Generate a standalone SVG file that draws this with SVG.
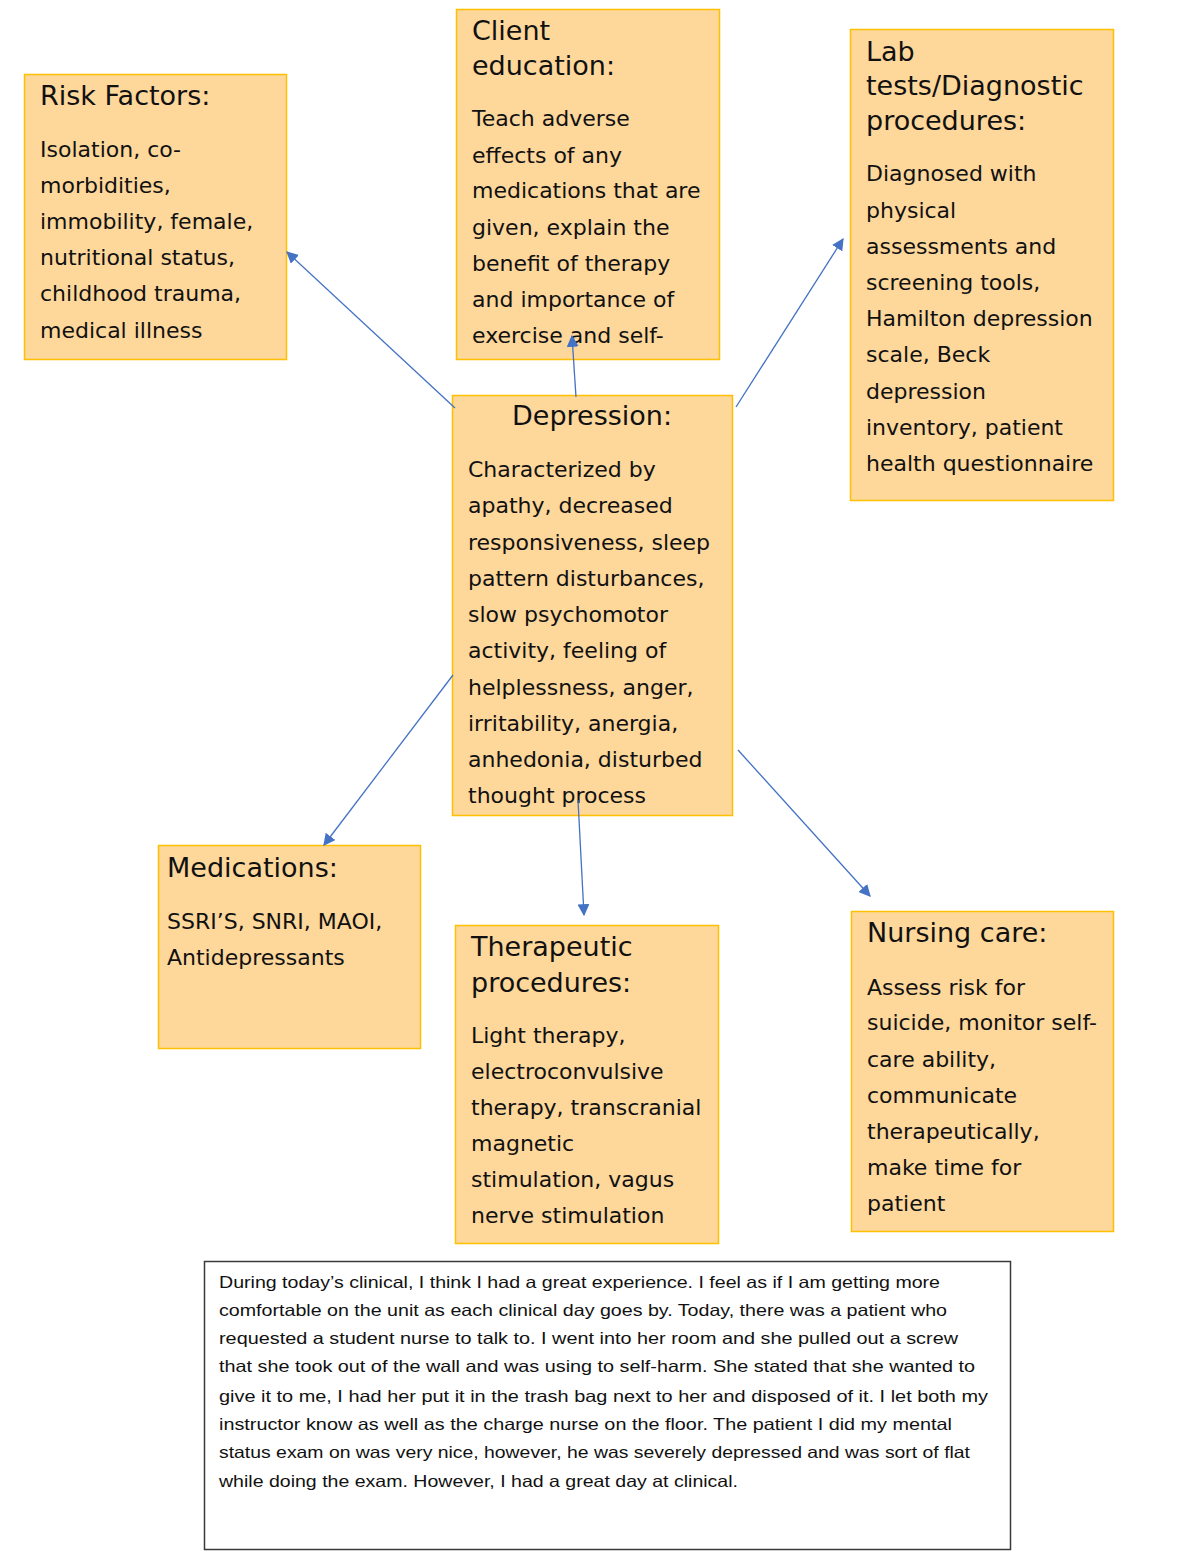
<svg xmlns="http://www.w3.org/2000/svg" width="1200" height="1553" viewBox="0 0 1200 1553">
<style>
.box{fill:#FED79B;stroke:#FFC000;stroke-width:1.5}
.t{font-family:"DejaVu Sans","Noto Sans",sans-serif;font-size:27px;fill:#111}
.b{font-family:"DejaVu Sans","Noto Sans",sans-serif;font-size:22px;fill:#111}
.n{font-family:"Liberation Sans",Arial,sans-serif;font-size:16.5px;fill:#111}
.c{stroke:#4472C4;stroke-width:1.3;fill:none;marker-end:url(#ah)}
</style>
<defs>
<marker id="ah" viewBox="0 0 10 10" refX="9" refY="5" markerWidth="12" markerHeight="12" markerUnits="userSpaceOnUse" orient="auto">
<path d="M0,0 L10,5 L0,10 z" fill="#4472C4"/>
</marker>
</defs>
<rect width="1200" height="1553" fill="#fff"/>

<g id="risk-factors">
<rect class="box" x="24.5" y="74.5" width="262" height="285"/>
<text class="t" x="40" y="105">Risk Factors:</text>
<text class="b" x="40" y="157">Isolation, co-</text>
<text class="b" x="40" y="193">morbidities,</text>
<text class="b" x="40" y="229">immobility, female,</text>
<text class="b" x="40" y="265">nutritional status,</text>
<text class="b" x="40" y="301">childhood trauma,</text>
<text class="b" x="40" y="338">medical illness</text>
</g>

<g id="client-education">
<rect class="box" x="456.5" y="9.5" width="263" height="350"/>
<text class="t" x="472" y="40">Client</text>
<text class="t" x="472" y="75">education:</text>
<text class="b" x="472" y="126">Teach adverse</text>
<text class="b" x="472" y="163">effects of any</text>
<text class="b" x="472" y="198">medications that are</text>
<text class="b" x="472" y="235">given, explain the</text>
<text class="b" x="472" y="271">benefit of therapy</text>
<text class="b" x="472" y="307">and importance of</text>
<text class="b" x="472" y="343">exercise and self-</text>
</g>

<g id="lab-tests">
<rect class="box" x="850.5" y="29.5" width="263" height="471"/>
<text class="t" x="866" y="61">Lab</text>
<text class="t" x="866" y="95">tests/Diagnostic</text>
<text class="t" x="866" y="130">procedures:</text>
<text class="b" x="866" y="181">Diagnosed with</text>
<text class="b" x="866" y="218">physical</text>
<text class="b" x="866" y="254">assessments and</text>
<text class="b" x="866" y="290">screening tools,</text>
<text class="b" x="866" y="326">Hamilton depression</text>
<text class="b" x="866" y="362">scale, Beck</text>
<text class="b" x="866" y="399">depression</text>
<text class="b" x="866" y="435">inventory, patient</text>
<text class="b" x="866" y="471">health questionnaire</text>
</g>

<g id="depression">
<rect class="box" x="452.5" y="395.5" width="280" height="420"/>
<text class="t" x="592" y="425" text-anchor="middle">Depression:</text>
<text class="b" x="468" y="477">Characterized by</text>
<text class="b" x="468" y="513">apathy, decreased</text>
<text class="b" x="468" y="550">responsiveness, sleep</text>
<text class="b" x="468" y="586">pattern disturbances,</text>
<text class="b" x="468" y="622">slow psychomotor</text>
<text class="b" x="468" y="658">activity, feeling of</text>
<text class="b" x="468" y="695">helplessness, anger,</text>
<text class="b" x="468" y="731">irritability, anergia,</text>
<text class="b" x="468" y="767">anhedonia, disturbed</text>
<text class="b" x="468" y="803">thought process</text>
</g>

<g id="medications">
<rect class="box" x="158.5" y="845.5" width="262" height="203"/>
<text class="t" x="167" y="877">Medications:</text>
<text class="b" x="167" y="929">SSRI’S, SNRI, MAOI,</text>
<text class="b" x="167" y="965">Antidepressants</text>
</g>

<g id="therapeutic-procedures">
<rect class="box" x="455.5" y="925.5" width="263" height="318"/>
<text class="t" x="471" y="956">Therapeutic</text>
<text class="t" x="471" y="992">procedures:</text>
<text class="b" x="471" y="1043">Light therapy,</text>
<text class="b" x="471" y="1079">electroconvulsive</text>
<text class="b" x="471" y="1115">therapy, transcranial</text>
<text class="b" x="471" y="1151">magnetic</text>
<text class="b" x="471" y="1187">stimulation, vagus</text>
<text class="b" x="471" y="1223">nerve stimulation</text>
</g>

<g id="nursing-care">
<rect class="box" x="851.5" y="911.5" width="262" height="320"/>
<text class="t" x="867" y="942">Nursing care:</text>
<text class="b" x="867" y="995">Assess risk for</text>
<text class="b" x="867" y="1030">suicide, monitor self-</text>
<text class="b" x="867" y="1067">care ability,</text>
<text class="b" x="867" y="1103">communicate</text>
<text class="b" x="867" y="1139">therapeutically,</text>
<text class="b" x="867" y="1175">make time for</text>
<text class="b" x="867" y="1211">patient</text>
</g>

<g id="connectors">
<line class="c" x1="455" y1="408" x2="287" y2="252"/>
<line class="c" x1="576" y1="397" x2="572" y2="336"/>
<line class="c" x1="736" y1="407" x2="843" y2="239"/>
<line class="c" x1="453" y1="675" x2="324" y2="845"/>
<line class="c" x1="578" y1="800" x2="584" y2="915"/>
<line class="c" x1="738" y1="750" x2="870" y2="896"/>
</g>

<g id="reflection">
<rect x="204.5" y="1261.5" width="806" height="288" fill="#fff" stroke="#3a3a3a" stroke-width="1.5"/>
<text class="n" x="219" y="1288" textLength="721" lengthAdjust="spacingAndGlyphs">During today’s clinical, I think I had a great experience. I feel as if I am getting more</text>
<text class="n" x="219" y="1316" textLength="728" lengthAdjust="spacingAndGlyphs">comfortable on the unit as each clinical day goes by. Today, there was a patient who</text>
<text class="n" x="219" y="1344" textLength="739" lengthAdjust="spacingAndGlyphs">requested a student nurse to talk to. I went into her room and she pulled out a screw</text>
<text class="n" x="219" y="1372" textLength="756" lengthAdjust="spacingAndGlyphs">that she took out of the wall and was using to self-harm. She stated that she wanted to</text>
<text class="n" x="219" y="1402" textLength="769" lengthAdjust="spacingAndGlyphs">give it to me, I had her put it in the trash bag next to her and disposed of it. I let both my</text>
<text class="n" x="219" y="1430" textLength="733" lengthAdjust="spacingAndGlyphs">instructor know as well as the charge nurse on the floor. The patient I did my mental</text>
<text class="n" x="219" y="1458" textLength="751" lengthAdjust="spacingAndGlyphs">status exam on was very nice, however, he was severely depressed and was sort of flat</text>
<text class="n" x="219" y="1487" textLength="519" lengthAdjust="spacingAndGlyphs">while doing the exam. However, I had a great day at clinical.</text>
</g>
</svg>
